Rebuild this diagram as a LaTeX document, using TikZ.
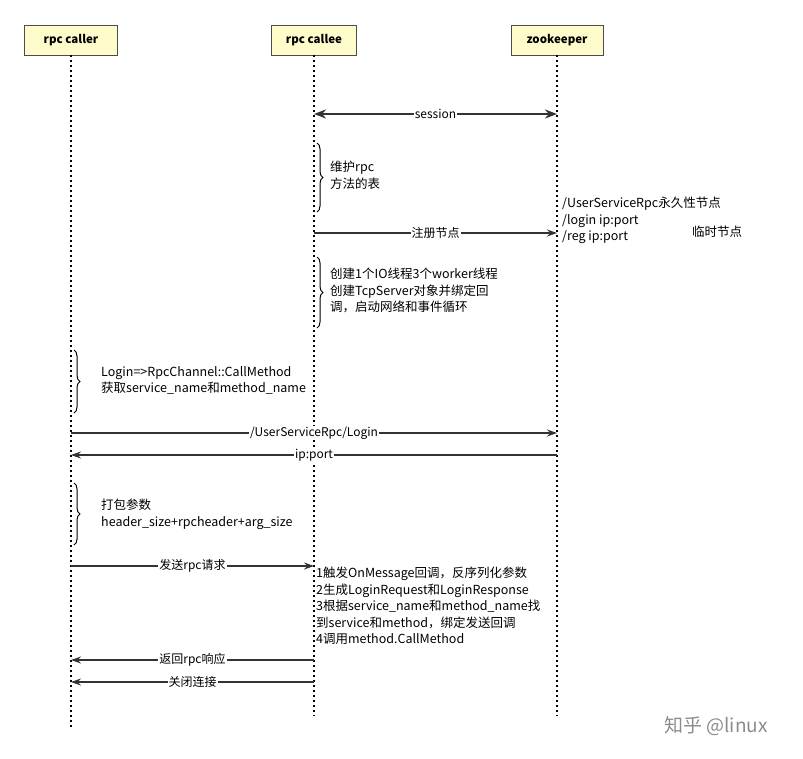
\documentclass[tikz,border=0pt]{standalone}
\usepackage{fontspec}
\setmainfont{Noto Sans CJK SC}
\usetikzlibrary{arrows.meta,decorations.pathreplacing}
\begin{document}
\begin{tikzpicture}[x=1pt,y=-1pt,
  hdr/.style={draw=black!70,fill=yellow!20,line width=0.8pt,minimum height=30pt,font=\fontsize{11.5}{13}\selectfont\bfseries},
  life/.style={line width=2pt,dash pattern=on 2pt off 3pt},
  msg/.style={line width=1.1pt,draw=black!80,-{Stealth[length=10pt,width=7pt]}},
  lbl/.style={fill=white,inner sep=1pt,font=\fontsize{12}{13}\selectfont},
  txt/.style={anchor=north west,align=left,inner sep=0pt,font=\fontsize{12.5}{16.5}\selectfont},
  brc/.style={decorate,decoration={brace,amplitude=6pt},line width=1pt}]
\useasboundingbox (0,0) rectangle (803,758);
\node[hdr,minimum width=93pt] (a) at (71,40) {rpc caller};
\node[hdr,minimum width=85pt] (b) at (314,40) {rpc callee};
\node[hdr,minimum width=92pt] (c) at (557,40) {zookeeper};
\coordinate (ae) at (71,730); \coordinate (be) at (314,716); \coordinate (ce) at (557,716);
\draw[life] (a.south) -- (ae);
\draw[life] (b.south) -- (be);
\draw[life] (c.south) -- (ce);
% session
\coordinate (s1) at (314,114); \coordinate (s2) at (557,114);
\draw[line width=2.2pt,draw=black!80,{Stealth[length=12pt,width=9pt]}-{Stealth[length=12pt,width=9pt]}] (s1) -- node[lbl]{session} (s2);
% brace 1
\coordinate (b1t) at (317,143); \coordinate (b1b) at (317,212);
\draw[brc] (b1t) -- (b1b);
\node[txt] (t1) at (330,161) {维护rpc\\方法的表};
% register
\coordinate (r1) at (314,233); \coordinate (r2) at (557,233);
\draw[msg] (r1) -- node[lbl]{注册节点} (r2);
\node[txt] (z) at (562,197) {/UserServiceRpc永久性节点\\/login ip:port\\/reg ip:port};
\node[txt] (z2) at (692,226) {临时节点};
% brace 2
\coordinate (b2t) at (317,257); \coordinate (b2b) at (317,328);
\draw[brc] (b2t) -- (b2b);
\node[txt] (t2) at (330,268) {创建1个IO线程3个worker线程\\创建TcpServer对象并绑定回\\调，启动网络和事件循环};
% brace 3
\coordinate (b3t) at (74,350); \coordinate (b3b) at (74,413);
\draw[brc] (b3t) -- (b3b);
\node[txt] (t3) at (101,366) {Login=>RpcChannel::CallMethod\\获取service\_name和method\_name};
% login
\coordinate (l1) at (71,433); \coordinate (l2) at (557,433);
\draw[msg] (l1) -- node[lbl]{/UserServiceRpc/Login} (l2);
\coordinate (p1) at (557,455); \coordinate (p2) at (71,455);
\draw[msg] (p1) -- node[lbl]{ip:port} (p2);
% brace 4
\coordinate (b4t) at (74,483); \coordinate (b4b) at (74,545);
\draw[brc] (b4t) -- (b4b);
\node[txt] (t4) at (101,499) {打包参数\\header\_size+rpcheader+arg\_size};
% send
\coordinate (q1) at (71,566); \coordinate (q2) at (314,566);
\draw[msg] (q1) -- node[lbl]{发送rpc请求} (q2);
\node[txt] (t5) at (316,567) {1触发OnMessage回调，反序列化参数\\2生成LoginRequest和LoginResponse\\3根据service\_name和method\_name找\\到service和method，绑定发送回调\\4调用method.CallMethod};
\coordinate (x1) at (314,660); \coordinate (x2) at (71,660);
\draw[msg] (x1) -- node[lbl]{返回rpc响应} (x2);
\coordinate (y1) at (314,682); \coordinate (y2) at (71,682);
\draw[msg] (y1) -- node[lbl]{关闭连接} (y2);
\node[font=\fontsize{19}{20}\selectfont,text=black!45] (wm) at (716,726) {知乎 @linux};
\end{tikzpicture}
\end{document}
